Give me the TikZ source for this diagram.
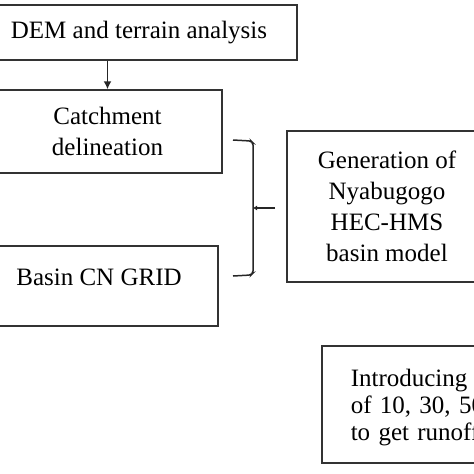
\documentclass[tikz,border=0pt]{standalone}
\usepackage{fontspec}
\setmainfont{Liberation Serif}
\usetikzlibrary{arrows.meta}

\begin{document}
\begin{tikzpicture}[x=1pt,y=-1pt,
   box/.style={draw=black!80,line width=1.5pt,inner sep=0pt,align=center,
      font=\fontsize{25}{31}\selectfont},
   link/.style={draw=black!85,line width=1.5pt}]
   \useasboundingbox (0,0) rectangle (474,474);
   \clip (0,0) rectangle (474,474);
   \node[box,minimum width=316pt,minimum height=55pt] (dem) at (139,32.5) {DEM and terrain analysis};
   \node[box,minimum width=229pt,minimum height=83pt] (catch) at (107.5,131.5) {Catchment\\delineation};
   \node[box,minimum width=238pt,minimum height=80pt] (basin) at (99,286) {};
   \node[font=\fontsize{25}{31}\selectfont] (basintxt) at ([yshift=9pt]basin.center) {Basin CN GRID};
   \node[box,minimum width=200pt,minimum height=151pt] (gen) at (387,206.5) {Generation of\\Nyabugogo\\HEC-HMS\\basin model};
   \node[box,anchor=north west,minimum height=117pt,text width=260pt,inner xsep=29pt,align=left,
      text height=24pt,font=\fontsize{25}{27}\selectfont] (intro) at (321,345) {Introducing\\of 10, 30, 50\\to get runoff};
   \draw[link,-{Latex[length=8pt,width=8pt]}] (catch.north |- dem.south) -- (catch.north);
   % brace joining the two inputs
   \coordinate (btop) at (233,140);
   \coordinate (bbot) at (233,276);
   \coordinate (bmid) at (253,208);
   \coordinate (gin) at (275,208);
   \draw[link,rounded corners=2pt] (btop) -- (251,141) -- (253,143) -- (253,273) -- (251,275) -- (bbot);
   \draw[link,-{Latex[length=4pt,width=5pt]}] (gin) -- (bmid);
\end{tikzpicture}
\end{document}
